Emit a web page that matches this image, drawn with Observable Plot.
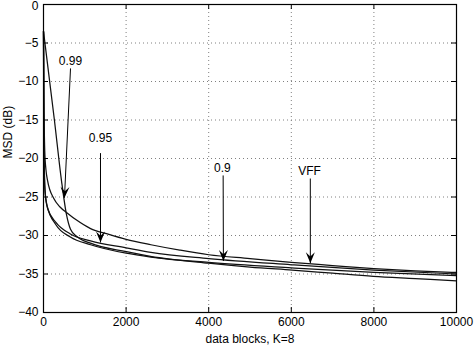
<!DOCTYPE html>
<html><head><meta charset="utf-8">
<script src="https://cdn.jsdelivr.net/npm/d3@7"></script>
<script src="https://cdn.jsdelivr.net/npm/@observablehq/plot@0.6"></script>
<style>body{margin:0;background:#fff}</style>
</head><body><div id="chart"></div>
<script>
const xTicks = [0, 2000, 4000, 6000, 8000, 10000];
const yTicks = [0, -5, -10, -15, -20, -25, -30, -35, -40];
const xGrid = [2000, 4000, 6000, 8000];
const yGrid = [-5, -10, -15, -20, -25, -30, -35];

// lambda = 0.99 (slow start)
const blocks099 = [0, 266, 436, 557, 654, 800, 1137, 2009, 2590, 3993, 5000, 6026, 7000, 7986, 9000, 10000];
const msd099    = [-3.5, -15.1, -22.9, -27.3, -29.2, -30.1, -31.0, -32.1, -32.7, -33.6, -34.1, -34.5, -34.9, -35.3, -35.6, -35.9];
// upper curve
const blocks09 = [0, 12, 30, 60, 100, 250, 400, 580, 800, 1140, 1550, 2000, 2600, 3300, 4000, 5000, 6000, 7000, 8000, 9000, 10000];
const msd09    = [-3.5, -13, -19, -21.5, -22.9, -25.2, -26.3, -27.1, -28.0, -29.1, -29.8, -30.5, -31.2, -31.9, -32.5, -33.0, -33.5, -33.9, -34.3, -34.6, -34.8];
// bundle curves
const blocks095 = [0, 8, 20, 40, 100, 300, 650, 1140, 2000, 2600, 4000, 6000, 8000, 10000];
const msd095    = [-3.5, -15, -21.5, -24.5, -26.5, -28.3, -29.8, -30.7, -31.6, -32.2, -33.0, -33.8, -34.5, -35.0];
const blocksVFF = [0, 6, 16, 35, 90, 300, 650, 1140, 2000, 2600, 4000, 6000, 8000, 10000];
const msdVFF    = [-3.5, -14, -20.5, -24, -26.2, -28.6, -30.2, -31.2, -32.3, -32.8, -33.5, -34.2, -34.8, -35.2];

const seriesNames = ["0.99", "0.9", "0.95", "VFF"];
const seriesX = [blocks099, blocks09, blocks095, blocksVFF];
const seriesY = [msd099, msd09, msd095, msdVFF];
const rows = seriesNames.flatMap((name, s) => seriesX[s].map((x, i) => ({series: name, x, y: seriesY[s][i]})));

// annotations
const noteText = ["0.99", "0.95", "0.9", "VFF"];
const noteX = [654, 1380, 4330, 6440];
const noteY = [-7.3, -17.3, -21.2, -21.7];
const tailX = [654, 1380, 4350, 6460];
const tailY = [-8.3, -19.3, -22.2, -22.6];
const tipX = [508, 1380, 4356, 6461];
const tipY = [-25.1, -30.9, -33.3, -33.6];
const tipTilt = [2.6, 0, 0, 0];
const notes = noteText.map((t, i) => ({t, x: noteX[i], y: noteY[i], x1: tailX[i], y1: tailY[i], x2: tipX[i], y2: tipY[i], r: tipTilt[i]}));

const arrowHead = {
  draw(ctx) {
    const h = 11, w = 4.5;
    ctx.moveTo(0, 0);
    ctx.lineTo(-w, -h);
    ctx.lineTo(0, -h * 0.6);
    ctx.lineTo(w, -h);
    ctx.closePath();
  }
};

const W = 474, H = 348, mL = 43, mR = 18, mT = 4, mB = 36;
const pw = W - mL - mR, ph = H - mT - mB;
const grid = {stroke: "#808080", strokeOpacity: 1, strokeDasharray: "1,3", strokeWidth: 1};
const fmt = d3.format("d");

const chart = Plot.plot({
  width: W, height: H,
  marginLeft: mL, marginRight: mR, marginTop: mT, marginBottom: mB,
  style: {fontSize: "12px", fontFamily: "'Liberation Sans', Arial, Helvetica, sans-serif", background: "white", color: "black"},
  x: {domain: [0, 10000], axis: null},
  y: {domain: [-40, 0], axis: null},
  marks: [
    Plot.ruleX(xGrid, {x: d => d, ...grid}),
    Plot.ruleY(yGrid, {y: d => d, ...grid}),
    Plot.line(rows, {x: "x", y: "y", z: "series", stroke: "#111", strokeWidth: 1.25, curve: "monotone-x"}),
    Plot.link(notes, {x1: "x1", y1: "y1", x2: "x2", y2: "y2", stroke: "black", strokeWidth: 1}),
    Plot.dot(notes, {x: "x2", y: "y2", symbol: arrowHead, fill: "black", stroke: null, rotate: "r"}),
    Plot.text(notes, {x: "x", y: "y", text: "t", fontSize: 12, textAnchor: "middle", lineAnchor: "middle", fill: "black"}),
    Plot.tickX(xTicks, {x: d => d, insetTop: ph - 5, stroke: "black"}),
    Plot.tickX(xTicks, {x: d => d, insetBottom: ph - 5, stroke: "black"}),
    Plot.tickY(yTicks, {y: d => d, insetRight: pw - 5, stroke: "black"}),
    Plot.tickY(yTicks, {y: d => d, insetLeft: pw - 5, stroke: "black"}),
    Plot.frame({stroke: "black", strokeWidth: 1.2}),
    Plot.axisX(xTicks, {anchor: "bottom", tickSize: 0, tickPadding: 5, label: null, fill: "black", tickFormat: fmt}),
    Plot.axisY(yTicks.slice(1), {anchor: "left", tickSize: 0, tickPadding: 5, label: null, fill: "black", tickFormat: fmt}),
    Plot.axisY(yTicks.slice(0, 1), {anchor: "left", tickSize: 0, tickPadding: 5, label: null, fill: "black", tickFormat: fmt, dy: 2}),
    Plot.text(["data blocks, K=8"], {frameAnchor: "bottom", dy: 30, fontSize: 12, fill: "black"}),
    Plot.text(["MSD (dB)"], {frameAnchor: "left", dx: -35, rotate: -90, fontSize: 12, fill: "black"})
  ]
});
document.getElementById("chart").appendChild(chart);
</script>
</body></html>
